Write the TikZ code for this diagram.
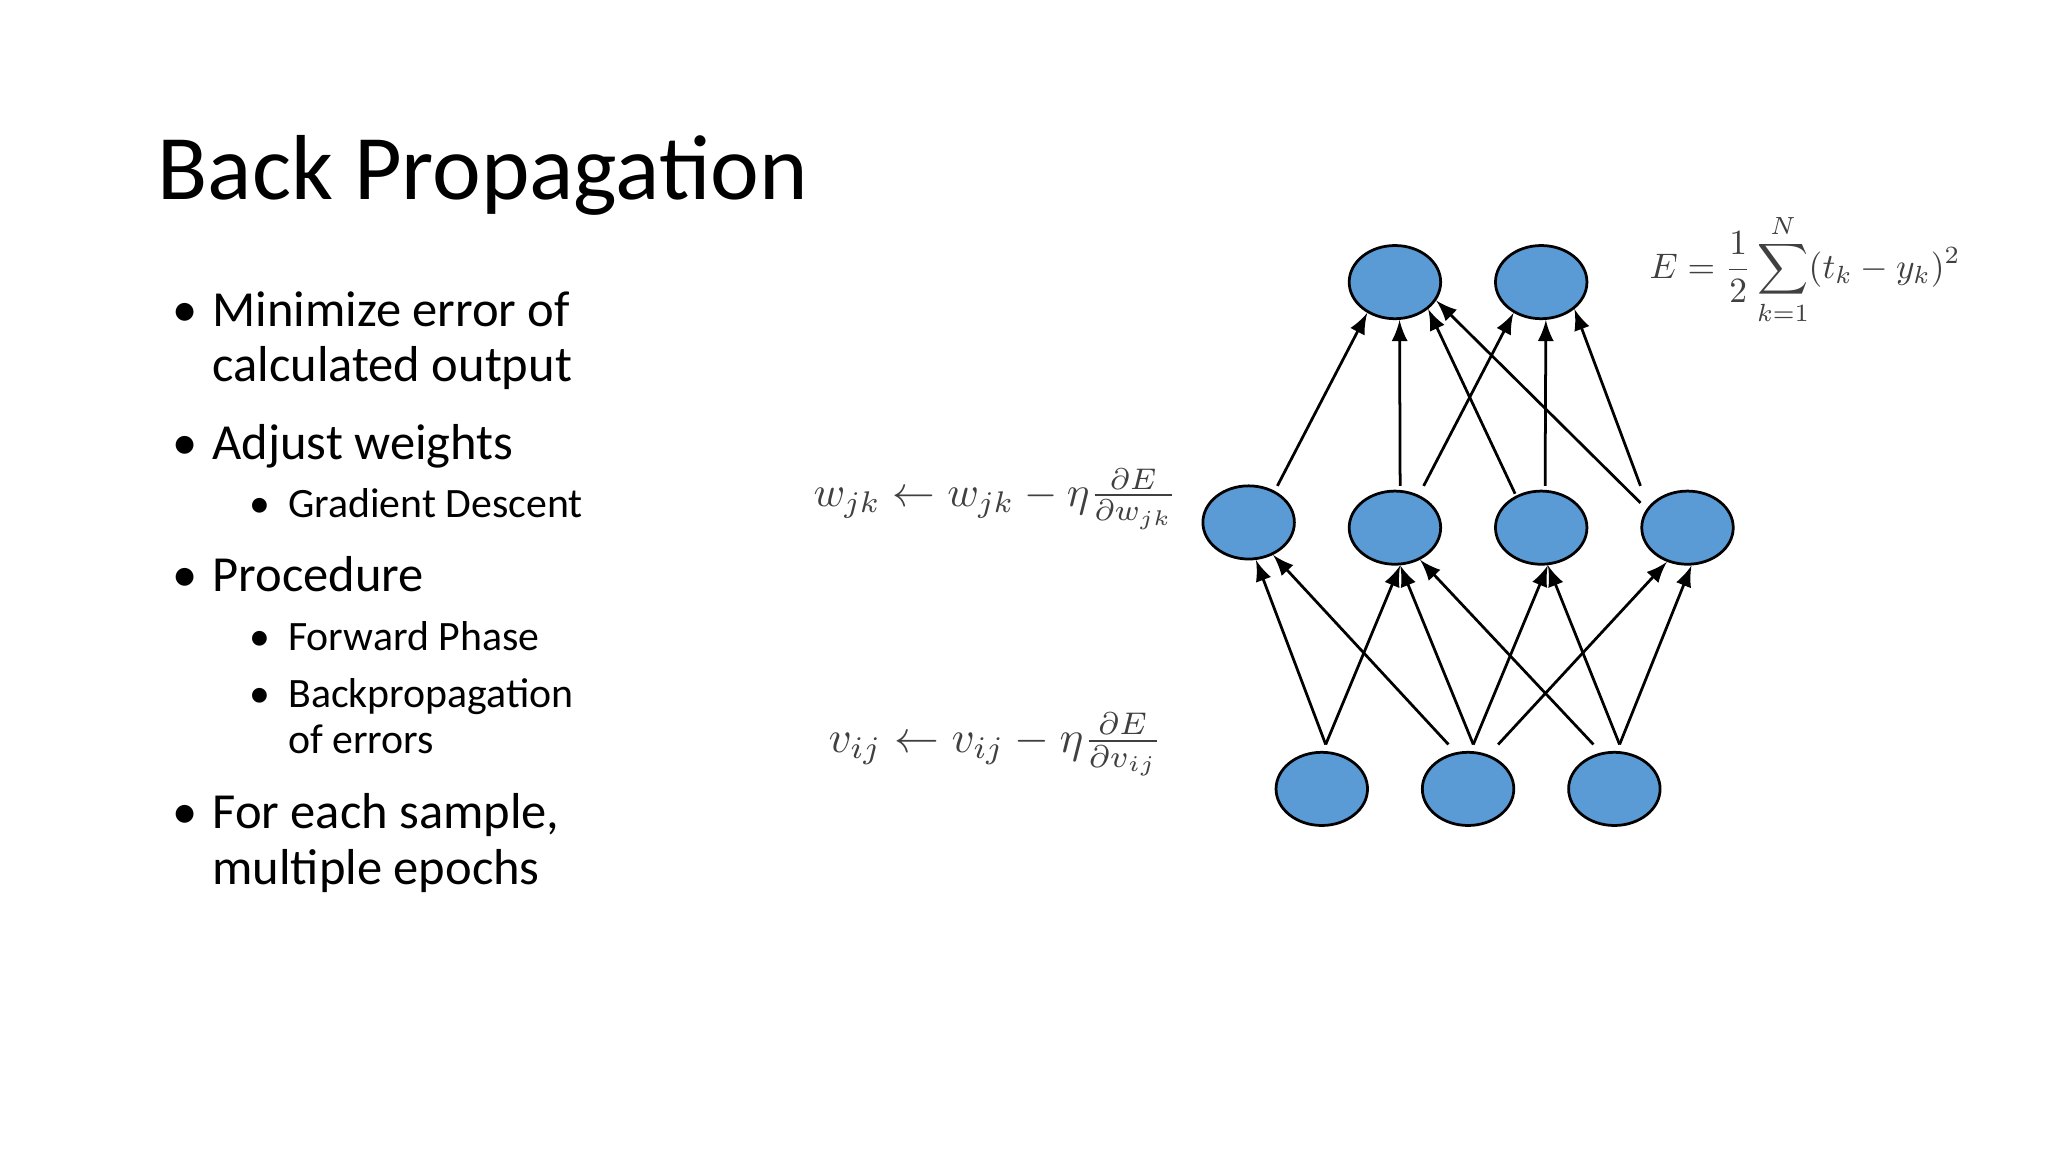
\documentclass[tikz,border=0pt]{standalone}
\usepackage{fontspec}
\setmainfont{Carlito}
\usepackage{amsmath}
\usetikzlibrary{shapes.geometric}
\begin{document}
\begin{tikzpicture}[x=0.01cm,y=-0.01cm,
  neuron/.style={ellipse,draw=black,semithick,fill=nblue,minimum width=0.70cm,minimum height=0.56cm,inner sep=0pt},
  ar/.style={-latex,semithick},
  b/.style={anchor=base west,inner sep=0pt,font=\fontsize{11}{13}\selectfont},
  s/.style={anchor=base west,inner sep=0pt,font=\fontsize{9.1}{11}\selectfont}]
\definecolor{nblue}{HTML}{5B9BD5}
\useasboundingbox (0,0) rectangle (1568,882);
\fill[white] (0,0) rectangle (1568,882);
\node[anchor=base west,inner sep=0pt,font=\fontsize{20.1}{24}\selectfont] (title) at (120,153) {Back Propagation};
% bullets
\node[b] (bb1) at (131,250) {•};
\node[b] (bb2) at (131,352) {•};
\node[b] (bb3) at (131,453) {•};
\node[b] (bb4) at (131,634) {•};
\node[b] (t1) at (162,250) {Minimize error of};
\node[b] (t2) at (162,292) {calculated output};
\node[b] (t3) at (162,352) {Adjust weights};
\node[s] (sb1) at (190,396) {•};
\node[s] (t4) at (220,396) {Gradient Descent};
\node[b] (t5) at (162,453) {Procedure};
\node[s] (sb2) at (190,498) {•};
\node[s] (t6) at (220,498) {Forward Phase};
\node[s] (sb3) at (190,542) {•};
\node[s] (t7) at (220,542) {Backpropagation};
\node[s] (t8) at (220,577) {of errors};
\node[b] (t9) at (162,634) {For each sample,};
\node[b] (t10) at (162,677) {multiple epochs};
% formulas
\node[text=black!75,inner sep=0pt] (fE) at (1382,206) {\resizebox{2.38cm}{!}{$E=\dfrac{1}{2}\displaystyle\sum_{k=1}^{N}(t_k-y_k)^2$}};
\node[text=black!75,inner sep=0pt] (fw) at (762,382) {\resizebox{2.78cm}{!}{$w_{jk}\leftarrow w_{jk}-\eta\frac{\partial E}{\partial w_{jk}}$}};
\node[text=black!75,inner sep=0pt] (fv) at (762,570) {\resizebox{2.55cm}{!}{$v_{ij}\leftarrow v_{ij}-\eta\frac{\partial E}{\partial v_{ij}}$}};
% neurons
\node[neuron] (o1) at (1068,216) {};
\node[neuron] (o2) at (1180,216) {};
\node[neuron] (h1) at (956,400) {};
\node[neuron] (h2) at (1068,404) {};
\node[neuron] (h3) at (1180,404) {};
\node[neuron] (h4) at (1292,404) {};
\node[neuron] (i1) at (1012,604) {};
\node[neuron] (i2) at (1124,604) {};
\node[neuron] (i3) at (1236,604) {};
% named start points
\coordinate (i1a) at (1015,570);
\coordinate (i2a) at (1109,570);
\coordinate (i2b) at (1128,570);
\coordinate (i2c) at (1147,570);
\coordinate (i3a) at (1220,570);
\coordinate (i3b) at (1240,570);
\coordinate (h1a) at (978,372);
\coordinate (h2a) at (1072,372);
\coordinate (h2b) at (1090,372);
\coordinate (h3a) at (1160,378);
\coordinate (h3b) at (1183,372);
\coordinate (h4a) at (1256,385);
\coordinate (h4b) at (1256,372);
\draw[ar] (i1a) -- (h1.-79);
\draw[ar] (i1a) -- (h2.-82);
\draw[ar] (i2a) -- (h1.-53);
\draw[ar] (i2b) -- (h2.-82);
\draw[ar] (i2b) -- (h3.-80);
\draw[ar] (i2c) -- (h4.-121);
\draw[ar] (i3a) -- (h2.-52);
\draw[ar] (i3b) -- (h3.-80);
\draw[ar] (i3b) -- (h4.-84);
\draw[ar] (h1a) -- (o1.-132);
\draw[ar] (h2a) -- (o1.-83);
\draw[ar] (h3a) -- (o1.-39);
\draw[ar] (h4a) -- (o1.-24);
\draw[ar] (h2b) -- (o2.-132);
\draw[ar] (h3b) -- (o2.-83);
\draw[ar] (h4b) -- (o2.-39);
\end{tikzpicture}
\end{document}
